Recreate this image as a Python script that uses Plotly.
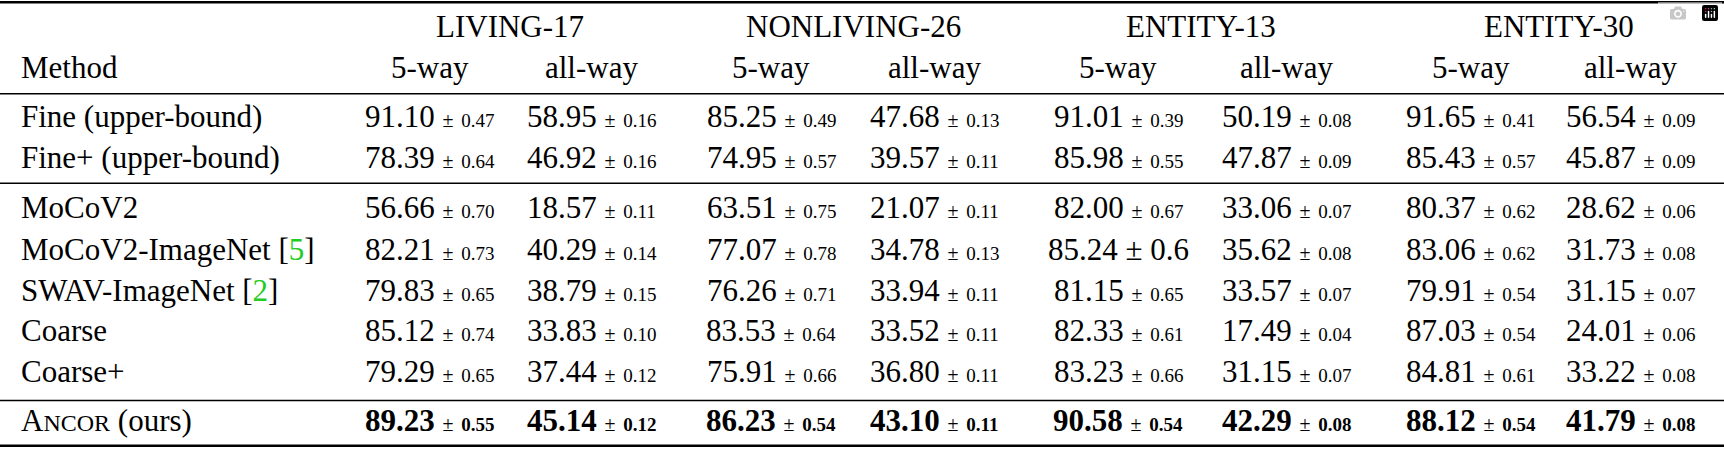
import plotly.graph_objects as go

groups = ["LIVING-17", "NONLIVING-26", "ENTITY-13", "ENTITY-30"]
subcols = ["5-way", "all-way"]
methods = ["Fine (upper-bound)", "Fine+ (upper-bound)", "MoCoV2", "MoCoV2-ImageNet [5]",
           "SWAV-ImageNet [2]", "Coarse", "Coarse+", "ANCOR (ours)"]
means = [
    ["91.10", "58.95", "85.25", "47.68", "91.01", "50.19", "91.65", "56.54"],
    ["78.39", "46.92", "74.95", "39.57", "85.98", "47.87", "85.43", "45.87"],
    ["56.66", "18.57", "63.51", "21.07", "82.00", "33.06", "80.37", "28.62"],
    ["82.21", "40.29", "77.07", "34.78", "85.24", "35.62", "83.06", "31.73"],
    ["79.83", "38.79", "76.26", "33.94", "81.15", "33.57", "79.91", "31.15"],
    ["85.12", "33.83", "83.53", "33.52", "82.33", "17.49", "87.03", "24.01"],
    ["79.29", "37.44", "75.91", "36.80", "83.23", "31.15", "84.81", "33.22"],
    ["89.23", "45.14", "86.23", "43.10", "90.58", "42.29", "88.12", "41.79"],
]
stds = [
    ["0.47", "0.16", "0.49", "0.13", "0.39", "0.08", "0.41", "0.09"],
    ["0.64", "0.16", "0.57", "0.11", "0.55", "0.09", "0.57", "0.09"],
    ["0.70", "0.11", "0.75", "0.11", "0.67", "0.07", "0.62", "0.06"],
    ["0.73", "0.14", "0.78", "0.13", "0.6", "0.08", "0.62", "0.08"],
    ["0.65", "0.15", "0.71", "0.11", "0.65", "0.07", "0.54", "0.07"],
    ["0.74", "0.10", "0.64", "0.11", "0.61", "0.04", "0.54", "0.06"],
    ["0.65", "0.12", "0.66", "0.11", "0.66", "0.07", "0.61", "0.08"],
    ["0.55", "0.12", "0.54", "0.11", "0.54", "0.08", "0.54", "0.08"],
]

W, H = 1565, 407
F = "Liberation Serif, Times New Roman, serif"
BIG, SMALL, PM = 31, 19, 20
col_x = [390, 537, 700, 848, 1015, 1168, 1335, 1480]
grp_x = [463, 775, 1090, 1415]
row_y = [106, 143, 188, 226, 263, 300, 337, 381]

fig = go.Figure()
ann = []
def add(x, y, t, anchor="center", size=BIG):
    ann.append(dict(x=x, y=y, xref="x", yref="y", text=t, showarrow=False,
                    xanchor=anchor, yanchor="middle", font=dict(family=F, size=size, color="black")))

for g, x in zip(groups, grp_x):
    add(x, 24, g)
add(17, 61, "Method", "left")
for i, x in enumerate(col_x):
    add(x, 61, subcols[i % 2])

def fmt_method(m):
    if m == "ANCOR (ours)":
        return "A<span style='font-size:24px'>NCOR</span> (ours)"
    m = m.replace("[5]", "[<span style='color:#22cc22'>5</span>]")
    m = m.replace("[2]", "[<span style='color:#22cc22'>2</span>]")
    return m

last = len(methods) - 1
for r, m in enumerate(methods):
    add(17, row_y[r], fmt_method(m), "left")
    for c in range(8):
        mv = means[r][c]
        sv = stds[r][c]
        sz = BIG if sv == "0.6" else SMALL
        pm = BIG if sv == "0.6" else PM
        if r == last:
            mv = "<b>" + mv + "</b>"
            sv = "<b>" + sv + "</b>"
        t = f"{mv} <span style='font-size:{pm}px'>±</span> <span style='font-size:{sz}px'>{sv}</span>"
        add(col_x[c], row_y[r], t)

shapes = []
for y, w in [(2, 2.5), (85, 1.5), (166, 1.5), (363, 1.5), (404, 2.5)]:
    shapes.append(dict(type="line", xref="x", yref="y", x0=0, x1=W, y0=y, y1=y,
                       line=dict(color="black", width=w)))

fig.update_layout(width=1724, height=449, margin=dict(l=0, r=0, t=0, b=0),
                  paper_bgcolor="white", plot_bgcolor="white",
                  annotations=ann, shapes=shapes, showlegend=False,
                  xaxis=dict(range=[0, W], visible=False, fixedrange=True),
                  yaxis=dict(range=[H, 0], visible=False, fixedrange=True))
fig.write_html("out.html", post_script="document.body.style.margin='0';")
